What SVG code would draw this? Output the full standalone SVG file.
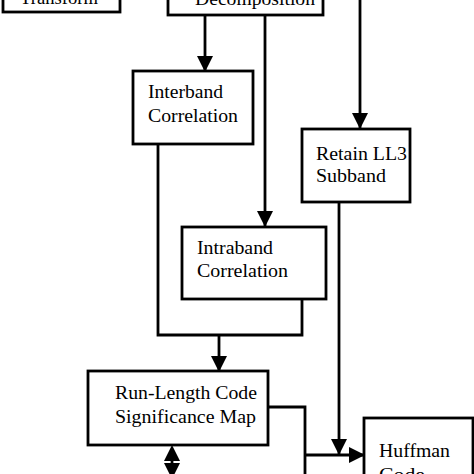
<svg xmlns="http://www.w3.org/2000/svg" width="474" height="474" viewBox="0 0 474 474">
<defs>
<style>
.box{fill:#fff;stroke:#000;stroke-width:2.8}
.ln{fill:none;stroke:#000;stroke-width:2.8}
.t{font-family:"Liberation Serif","Times New Roman",serif;font-size:19.5px;fill:#000}
</style>
<marker id="ah" viewBox="0 0 16 16" refX="15" refY="8" markerWidth="16" markerHeight="16" markerUnits="userSpaceOnUse" orient="auto">
<path d="M0,0 L16,8 L0,16 Z" fill="#000"/>
</marker>
</defs>
<rect width="474" height="474" fill="#fff"/>
<g id="connectors">
<path class="ln" d="M205,15 V71" marker-end="url(#ah)"/>
<path class="ln" d="M265,15 V226" marker-end="url(#ah)"/>
<path class="ln" d="M360,-2 V128" marker-end="url(#ah)"/>
<path class="ln" d="M158,144 V335 H302 V299"/>
<path class="ln" d="M219,335 V371" marker-end="url(#ah)"/>
<path class="ln" d="M339,202 V454" marker-end="url(#ah)"/>
<path class="ln" d="M268,407 H305 V476"/>
<path class="ln" d="M305,455 H364" marker-end="url(#ah)"/>
<path class="ln" d="M172,476 V460"/>
<path d="M172,445 L164,461 H180 Z" fill="#000"/>
<path d="M164,463 H180 L172,479 Z" fill="#000"/>
</g>
<g id="transform">
<rect class="box" x="3" y="-10" width="117" height="22"/>
<text class="t" x="20" y="4" textLength="78" lengthAdjust="spacingAndGlyphs">Transform</text>
</g>
<g id="decomposition">
<rect class="box" x="168" y="-10" width="155" height="25"/>
<text class="t" x="195" y="5" textLength="120" lengthAdjust="spacingAndGlyphs">Decomposition</text>
</g>
<g id="interband">
<rect class="box" x="133" y="71" width="120" height="73"/>
<text class="t" x="148" y="98" textLength="75" lengthAdjust="spacingAndGlyphs">Interband</text>
<text class="t" x="148" y="122" textLength="90" lengthAdjust="spacingAndGlyphs">Correlation</text>
</g>
<g id="retain">
<rect class="box" x="302" y="129" width="108" height="73"/>
<text class="t" x="316" y="160" textLength="91" lengthAdjust="spacingAndGlyphs">Retain LL3</text>
<text class="t" x="316" y="182" textLength="70" lengthAdjust="spacingAndGlyphs">Subband</text>
</g>
<g id="intraband">
<rect class="box" x="182" y="227" width="144" height="72"/>
<text class="t" x="197" y="254" textLength="76" lengthAdjust="spacingAndGlyphs">Intraband</text>
<text class="t" x="197" y="277" textLength="91" lengthAdjust="spacingAndGlyphs">Correlation</text>
</g>
<g id="runlength">
<rect class="box" x="88" y="371" width="180" height="74"/>
<text class="t" x="115" y="399" textLength="142" lengthAdjust="spacingAndGlyphs">Run-Length Code</text>
<text class="t" x="115" y="423" textLength="141" lengthAdjust="spacingAndGlyphs">Significance Map</text>
</g>
<g id="huffman">
<rect class="box" x="364" y="418" width="109" height="70"/>
<text class="t" x="379" y="457" textLength="71" lengthAdjust="spacingAndGlyphs">Huffman</text>
<text class="t" x="379" y="481" textLength="46" lengthAdjust="spacingAndGlyphs">Code</text>
</g>
</svg>
